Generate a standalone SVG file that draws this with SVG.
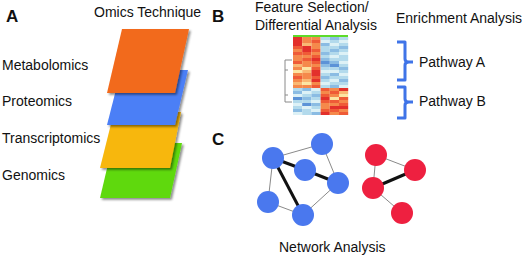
<svg xmlns="http://www.w3.org/2000/svg" width="522" height="256" viewBox="0 0 522 256">
<defs>
<filter id="sh" x="-10%" y="-10%" width="130%" height="130%">
<feDropShadow dx="1.8" dy="1.8" stdDeviation="0.8" flood-color="#000" flood-opacity="0.45"/>
</filter>
<style>
text{font-family:"Liberation Sans",Arial,sans-serif;font-size:14px;fill:#111}
.lbl{font-weight:bold;font-size:17px}
.r1{fill:#E3302B}.r2{fill:#EF5B37}.r3{fill:#F5894B}.r4{fill:#F9B873}.r5{fill:#FCE5A3}
.b1{fill:#DDF1F6}.b2{fill:#B3DAEC}.b3{fill:#8BBCE3}.b4{fill:#5C93D7}
.thin{stroke:#8a8a8a;stroke-width:1;fill:none}
.thick{stroke:#111;stroke-width:3;fill:none}
.bn{fill:#4A78EE}.rn{fill:#EE2040}
.brace{fill:none;stroke:#3F74E8;stroke-width:3;stroke-linejoin:round;stroke-linecap:butt}
</style>
</defs>
<rect width="522" height="256" fill="#fff"/>

<!-- Panel A -->
<text class="lbl" x="6" y="22">A</text>
<text x="94" y="17">Omics Technique</text>
<g id="layer-genomics"><polygon points="113,143 182,143 170,198 100,198" fill="#5ED90E" filter="url(#sh)"/></g>
<g id="layer-transcriptomics"><polygon points="114,112 181,112 170,168 100,168" fill="#F7B70A" filter="url(#sh)"/></g>
<g id="layer-proteomics"><polygon points="121,70 188,70 175,125 107,125" fill="#4C7FF6" filter="url(#sh)"/></g>
<g id="layer-metabolomics"><polygon points="122,29 189,29 175,93 107,93" fill="#F26A1B" filter="url(#sh)"/></g>
<text x="2" y="70">Metabolomics</text>
<text x="2" y="106">Proteomics</text>
<text x="2" y="143">Transcriptomics</text>
<text x="2" y="180">Genomics</text>

<!-- Panel B -->
<text class="lbl" x="212" y="22">B</text>
<text x="255" y="12">Feature Selection/</text>
<text x="255" y="30">Differential Analysis</text>
<text x="396" y="23">Enrichment Analysis</text>

<g id="heatmap">
<rect x="293" y="35" width="55" height="2" fill="#5EDB2A"/>
<path class="thin" d="M292,60 H285 V102 H292 M285,70 H288 M285,95 H288" stroke-width="0.7"/>
<g id="hm-col1">
<rect class="r1" x="293" y="37" width="9.2" height="3"/><rect class="r1" x="293" y="40" width="9.2" height="3"/><rect class="r1" x="293" y="43" width="9.2" height="3"/><rect class="r2" x="293" y="46" width="9.2" height="3"/><rect class="r3" x="293" y="49" width="9.2" height="3"/><rect class="r2" x="293" y="52" width="9.2" height="3"/><rect class="r3" x="293" y="55" width="9.2" height="3"/><rect class="r3" x="293" y="58" width="9.2" height="3"/><rect class="r2" x="293" y="61" width="9.2" height="3"/><rect class="r4" x="293" y="64" width="9.2" height="3"/><rect class="r3" x="293" y="67" width="9.2" height="3"/><rect class="r5" x="293" y="70" width="9.2" height="3"/><rect class="r3" x="293" y="73" width="9.2" height="3"/><rect class="r2" x="293" y="76" width="9.2" height="3"/><rect class="r3" x="293" y="79" width="9.2" height="3"/><rect class="r4" x="293" y="82" width="9.2" height="3"/><rect class="r3" x="293" y="85" width="9.2" height="3"/>
<rect class="b2" x="293" y="88" width="9.2" height="3"/><rect class="b3" x="293" y="91" width="9.2" height="3"/><rect class="b1" x="293" y="94" width="9.2" height="3"/><rect class="b4" x="293" y="97" width="9.2" height="3"/><rect class="b2" x="293" y="100" width="9.2" height="3"/><rect class="b1" x="293" y="103" width="9.2" height="3"/><rect class="b2" x="293" y="106" width="9.2" height="3"/><rect class="b3" x="293" y="109" width="9.2" height="3"/><rect class="b1" x="293" y="112" width="9.2" height="3"/>
</g>
<g id="hm-col2">
<rect class="r3" x="302.2" y="37" width="9.2" height="3"/><rect class="r3" x="302.2" y="40" width="9.2" height="3"/><rect class="r4" x="302.2" y="43" width="9.2" height="3"/><rect class="r1" x="302.2" y="46" width="9.2" height="3"/><rect class="r1" x="302.2" y="49" width="9.2" height="3"/><rect class="r2" x="302.2" y="52" width="9.2" height="3"/><rect class="r3" x="302.2" y="55" width="9.2" height="3"/><rect class="r2" x="302.2" y="58" width="9.2" height="3"/><rect class="r3" x="302.2" y="61" width="9.2" height="3"/><rect class="r3" x="302.2" y="64" width="9.2" height="3"/><rect class="r5" x="302.2" y="67" width="9.2" height="3"/><rect class="r4" x="302.2" y="70" width="9.2" height="3"/><rect class="r3" x="302.2" y="73" width="9.2" height="3"/><rect class="r3" x="302.2" y="76" width="9.2" height="3"/><rect class="r4" x="302.2" y="79" width="9.2" height="3"/><rect class="r5" x="302.2" y="82" width="9.2" height="3"/><rect class="r3" x="302.2" y="85" width="9.2" height="3"/>
<rect class="b3" x="302.2" y="88" width="9.2" height="3"/><rect class="b1" x="302.2" y="91" width="9.2" height="3"/><rect class="b2" x="302.2" y="94" width="9.2" height="3"/><rect class="b3" x="302.2" y="97" width="9.2" height="3"/><rect class="b2" x="302.2" y="100" width="9.2" height="3"/><rect class="b4" x="302.2" y="103" width="9.2" height="3"/><rect class="b1" x="302.2" y="106" width="9.2" height="3"/><rect class="b2" x="302.2" y="109" width="9.2" height="3"/><rect class="b2" x="302.2" y="112" width="9.2" height="3"/>
</g>
<g id="hm-col3">
<rect class="r3" x="311.4" y="37" width="9.2" height="3"/><rect class="r2" x="311.4" y="40" width="9.2" height="3"/><rect class="r3" x="311.4" y="43" width="9.2" height="3"/><rect class="r3" x="311.4" y="46" width="9.2" height="3"/><rect class="r2" x="311.4" y="49" width="9.2" height="3"/><rect class="r3" x="311.4" y="52" width="9.2" height="3"/><rect class="r2" x="311.4" y="55" width="9.2" height="3"/><rect class="r1" x="311.4" y="58" width="9.2" height="3"/><rect class="r2" x="311.4" y="61" width="9.2" height="3"/><rect class="r3" x="311.4" y="64" width="9.2" height="3"/><rect class="r2" x="311.4" y="67" width="9.2" height="3"/><rect class="r1" x="311.4" y="70" width="9.2" height="3"/><rect class="r1" x="311.4" y="73" width="9.2" height="3"/><rect class="r2" x="311.4" y="76" width="9.2" height="3"/><rect class="r1" x="311.4" y="79" width="9.2" height="3"/><rect class="r3" x="311.4" y="82" width="9.2" height="3"/><rect class="r2" x="311.4" y="85" width="9.2" height="3"/>
<rect class="b1" x="311.4" y="88" width="9.2" height="3"/><rect class="b2" x="311.4" y="91" width="9.2" height="3"/><rect class="b3" x="311.4" y="94" width="9.2" height="3"/><rect class="b2" x="311.4" y="97" width="9.2" height="3"/><rect class="b1" x="311.4" y="100" width="9.2" height="3"/><rect class="b3" x="311.4" y="103" width="9.2" height="3"/><rect class="b2" x="311.4" y="106" width="9.2" height="3"/><rect class="b1" x="311.4" y="109" width="9.2" height="3"/><rect class="b3" x="311.4" y="112" width="9.2" height="3"/>
</g>
<g id="hm-col4">
<rect class="b2" x="320.6" y="37" width="9.2" height="3"/><rect class="b1" x="320.6" y="40" width="9.2" height="3"/><rect class="b3" x="320.6" y="43" width="9.2" height="3"/><rect class="b2" x="320.6" y="46" width="9.2" height="3"/><rect class="b2" x="320.6" y="49" width="9.2" height="3"/><rect class="b3" x="320.6" y="52" width="9.2" height="3"/><rect class="b2" x="320.6" y="55" width="9.2" height="3"/><rect class="b3" x="320.6" y="58" width="9.2" height="3"/><rect class="b4" x="320.6" y="61" width="9.2" height="3"/><rect class="b3" x="320.6" y="64" width="9.2" height="3"/><rect class="b2" x="320.6" y="67" width="9.2" height="3"/><rect class="b1" x="320.6" y="70" width="9.2" height="3"/><rect class="b2" x="320.6" y="73" width="9.2" height="3"/><rect class="b3" x="320.6" y="76" width="9.2" height="3"/><rect class="b2" x="320.6" y="79" width="9.2" height="3"/><rect class="b1" x="320.6" y="82" width="9.2" height="3"/><rect class="b2" x="320.6" y="85" width="9.2" height="3"/>
<rect class="r2" x="320.6" y="88" width="9.2" height="3"/><rect class="r3" x="320.6" y="91" width="9.2" height="3"/><rect class="r2" x="320.6" y="94" width="9.2" height="3"/><rect class="r1" x="320.6" y="97" width="9.2" height="3"/><rect class="r2" x="320.6" y="100" width="9.2" height="3"/><rect class="r3" x="320.6" y="103" width="9.2" height="3"/><rect class="r3" x="320.6" y="106" width="9.2" height="3"/><rect class="r2" x="320.6" y="109" width="9.2" height="3"/><rect class="r1" x="320.6" y="112" width="9.2" height="3"/>
</g>
<g id="hm-col5">
<rect class="b3" x="329.8" y="37" width="9.2" height="3"/><rect class="b2" x="329.8" y="40" width="9.2" height="3"/><rect class="b1" x="329.8" y="43" width="9.2" height="3"/><rect class="b2" x="329.8" y="46" width="9.2" height="3"/><rect class="b3" x="329.8" y="49" width="9.2" height="3"/><rect class="b2" x="329.8" y="52" width="9.2" height="3"/><rect class="b1" x="329.8" y="55" width="9.2" height="3"/><rect class="b2" x="329.8" y="58" width="9.2" height="3"/><rect class="b3" x="329.8" y="61" width="9.2" height="3"/><rect class="b4" x="329.8" y="64" width="9.2" height="3"/><rect class="b2" x="329.8" y="67" width="9.2" height="3"/><rect class="b1" x="329.8" y="70" width="9.2" height="3"/><rect class="b3" x="329.8" y="73" width="9.2" height="3"/><rect class="b2" x="329.8" y="76" width="9.2" height="3"/><rect class="b1" x="329.8" y="79" width="9.2" height="3"/><rect class="b2" x="329.8" y="82" width="9.2" height="3"/><rect class="b3" x="329.8" y="85" width="9.2" height="3"/>
<rect class="r3" x="329.8" y="88" width="9.2" height="3"/><rect class="r2" x="329.8" y="91" width="9.2" height="3"/><rect class="r3" x="329.8" y="94" width="9.2" height="3"/><rect class="r5" x="329.8" y="97" width="9.2" height="3"/><rect class="r2" x="329.8" y="100" width="9.2" height="3"/><rect class="r3" x="329.8" y="103" width="9.2" height="3"/><rect class="r1" x="329.8" y="106" width="9.2" height="3"/><rect class="r2" x="329.8" y="109" width="9.2" height="3"/><rect class="r3" x="329.8" y="112" width="9.2" height="3"/>
</g>
<g id="hm-col6">
<rect class="b2" x="339" y="37" width="9.2" height="3"/><rect class="b1" x="339" y="40" width="9.2" height="3"/><rect class="b2" x="339" y="43" width="9.2" height="3"/><rect class="b3" x="339" y="46" width="9.2" height="3"/><rect class="b2" x="339" y="49" width="9.2" height="3"/><rect class="b1" x="339" y="52" width="9.2" height="3"/><rect class="b2" x="339" y="55" width="9.2" height="3"/><rect class="b2" x="339" y="58" width="9.2" height="3"/><rect class="b1" x="339" y="61" width="9.2" height="3"/><rect class="b2" x="339" y="64" width="9.2" height="3"/><rect class="b3" x="339" y="67" width="9.2" height="3"/><rect class="b2" x="339" y="70" width="9.2" height="3"/><rect class="b1" x="339" y="73" width="9.2" height="3"/><rect class="b2" x="339" y="76" width="9.2" height="3"/><rect class="b3" x="339" y="79" width="9.2" height="3"/><rect class="b2" x="339" y="82" width="9.2" height="3"/><rect class="b1" x="339" y="85" width="9.2" height="3"/>
<rect class="r1" x="339" y="88" width="9.2" height="3"/><rect class="r4" x="339" y="91" width="9.2" height="3"/><rect class="r5" x="339" y="94" width="9.2" height="3"/><rect class="r2" x="339" y="97" width="9.2" height="3"/><rect class="r3" x="339" y="100" width="9.2" height="3"/><rect class="r2" x="339" y="103" width="9.2" height="3"/><rect class="r1" x="339" y="106" width="9.2" height="3"/><rect class="r3" x="339" y="109" width="9.2" height="3"/><rect class="r2" x="339" y="112" width="9.2" height="3"/>
</g>
</g>

<g id="brace-a"><path class="brace" d="M397,42 H405 V59 Q405,62 409,62 H413 M409,62 Q405,62 405,65 V80 H397"/></g>
<g id="brace-b"><path class="brace" d="M397,87 H405 V99 Q405,102 409,102 H413 M409,102 Q405,102 405,105 V118 H397"/></g>
<text x="419" y="67">Pathway A</text>
<text x="419" y="106">Pathway B</text>

<!-- Panel C -->
<text class="lbl" x="212" y="145">C</text>
<g id="edges">
<line class="thin" x1="273" y1="158" x2="322" y2="144"/>
<line class="thin" x1="322" y1="144" x2="338" y2="183"/>
<line class="thin" x1="338" y1="183" x2="303" y2="215"/>
<line class="thin" x1="303" y1="215" x2="268" y2="202"/>
<line class="thin" x1="268" y1="202" x2="273" y2="158"/>
<line class="thick" x1="273" y1="158" x2="305" y2="170"/>
<line class="thick" x1="305" y1="170" x2="338" y2="183" stroke-width="4"/>
<line class="thick" x1="273" y1="158" x2="303" y2="215"/>
<line class="thin" x1="376" y1="155" x2="415" y2="170"/>
<line class="thin" x1="376" y1="155" x2="373" y2="188"/>
<line class="thin" x1="373" y1="188" x2="402" y2="213"/>
<line class="thick" x1="373" y1="188" x2="415" y2="170"/>
</g>
<g id="n1"><circle class="bn" cx="273" cy="158" r="11"/></g>
<g id="n2"><circle class="bn" cx="322" cy="144" r="11"/></g>
<g id="n3"><circle class="bn" cx="305" cy="170" r="11"/></g>
<g id="n4"><circle class="bn" cx="338" cy="183" r="11"/></g>
<g id="n5"><circle class="bn" cx="268" cy="202" r="11"/></g>
<g id="n6"><circle class="bn" cx="303" cy="215" r="11"/></g>
<g id="n7"><circle class="rn" cx="376" cy="155" r="11"/></g>
<g id="n8"><circle class="rn" cx="415" cy="170" r="11"/></g>
<g id="n9"><circle class="rn" cx="373" cy="188" r="11"/></g>
<g id="n10"><circle class="rn" cx="402" cy="213" r="11"/></g>
<text x="279" y="252">Network Analysis</text>
</svg>
